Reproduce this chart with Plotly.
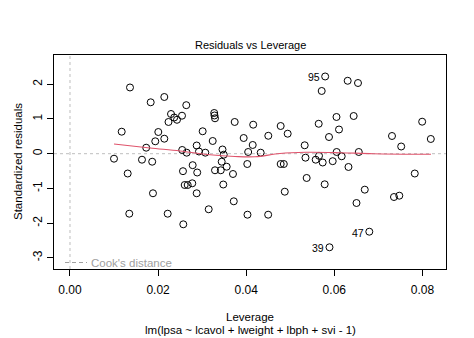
import plotly.graph_objects as go

# Leverage and standardized residuals
leverage = [
    0.01362, 0.01174, 0.00999, 0.01310, 0.01730, 0.01634, 0.01866, 0.01832, 0.02141, 0.02005,
    0.01936, 0.02141, 0.02236, 0.02293, 0.02366, 0.02429, 0.02543, 0.02640, 0.03012, 0.02876,
    0.02547, 0.02649, 0.02928, 0.03072, 0.02785, 0.02565, 0.02888, 0.03274, 0.03280, 0.03292,
    0.03240, 0.03462, 0.03491, 0.03444, 0.03557, 0.03292, 0.03423, 0.03700, 0.03739, 0.03943,
    0.04045, 0.04025, 0.02604, 0.02672, 0.02776, 0.03480, 0.01884, 0.02876, 0.03718, 0.01346,
    0.02218, 0.03149, 0.02572, 0.04029, 0.05793, 0.05714, 0.06304, 0.06538, 0.05646, 0.06050,
    0.06107, 0.06440, 0.05880, 0.04159, 0.04148, 0.04329, 0.04502, 0.04783, 0.04942, 0.05328,
    0.05346, 0.05578, 0.05653, 0.05737, 0.05964, 0.06054, 0.06168, 0.06556, 0.06322, 0.04783,
    0.04854, 0.07310, 0.07519, 0.07995, 0.08191, 0.07827, 0.05373, 0.05782, 0.04876, 0.06692,
    0.06504, 0.07355, 0.07476, 0.04499, 0.06795, 0.05891,
]
std_resid = [
    1.908, 0.634, -0.144, -0.571, 0.173, -0.173, -0.231, 1.481, 1.634, 0.625,
    0.357, 0.432, 0.914, 1.144, 1.043, 0.977, 1.095, 1.398, 0.646, 0.236,
    0.107, 0.029, 0.063, 0.029, -0.331, -0.504, -0.542, 1.173, 1.101, 1.020,
    0.366, 0.121, -0.029, -0.231, -0.375, -0.478, -0.478, -0.585, 0.914, 0.452,
    0.049, -0.297, -0.902, -0.902, -0.853, -0.888, -1.141, -1.141, -1.372, -1.729,
    -1.729, -1.602, -2.035, -1.758, 2.225, 1.807, 2.101, 2.037, 0.862, 1.058,
    0.697, 1.086, 0.481, 0.836, 0.251, 0.029, 0.516, 0.798, 0.576, 0.242,
    -0.115, -0.173, -0.061, -0.254, -0.216, 0.049, -0.075, 0.049, -0.383, -0.297,
    -0.297, 0.510, 0.207, 0.922, 0.424, -0.571, -0.700, -0.882, -1.095, -1.037,
    -1.421, -1.248, -1.210, -1.758, -2.248, -2.697,
]

# Smoothed (lowess) curve
smooth_lev = [0.00999, 0.01816, 0.02497, 0.03178, 0.03746, 0.04200, 0.04767, 0.05358, 0.06129, 0.06879, 0.08195]
smooth_res = [0.280, 0.164, 0.078, -0.032, -0.081, -0.089, 0.006, 0.040, 0.029, 0.000, -0.017]

# Labelled observations (index into arrays, label text)
label_index = [54, 94, 95]
label_text = ["95", "47", "39"]

x_tick_vals = [0.00, 0.02, 0.04, 0.06, 0.08]
x_tick_text = ["0.00", "0.02", "0.04", "0.06", "0.08"]
y_tick_vals = [-3, -2, -1, 0, 1, 2]
y_tick_text = ["-3", "-2", "-1", "0", "1", "2"]

FONT = "Liberation Sans, Arial, Helvetica, sans-serif"

fig = go.Figure()

fig.add_trace(go.Scatter(
    x=leverage, y=std_resid, mode="markers",
    marker=dict(symbol="circle-open", size=7, color="black", line=dict(width=1, color="black")),
    showlegend=False, hoverinfo="skip",
))
fig.add_trace(go.Scatter(
    x=smooth_lev, y=smooth_res, mode="lines",
    line=dict(color="#DF536B", width=1.1, shape="spline"),
    showlegend=False, hoverinfo="skip",
))

shapes = [
    dict(type="line", xref="paper", yref="y", x0=0, x1=1, y0=0, y1=0,
         line=dict(color="#BEBEBE", width=1, dash="dot"), layer="below"),
    dict(type="line", xref="x", yref="paper", x0=0, x1=0, y0=0, y1=1,
         line=dict(color="#BEBEBE", width=1, dash="dot"), layer="below"),
    # Cook's distance legend key
    dict(type="line", xref="paper", yref="paper",
         x0=11 / 392, x1=33 / 392, y0=6.5 / 214, y1=6.5 / 214,
         line=dict(color="#A0A0A0", width=1, dash="4px,3px")),
]

annotations = [
    dict(text="Residuals vs Leverage", xref="paper", yref="paper", x=0.5, y=1,
         xanchor="center", yanchor="middle", yshift=10, showarrow=False,
         font=dict(size=11, color="black", family=FONT)),
    dict(text="Leverage", xref="paper", yref="paper", x=0.5, y=0,
         xanchor="center", yanchor="middle", yshift=-48, showarrow=False,
         font=dict(size=11.5, color="black", family=FONT)),
    dict(text="lm(lpsa ~ lcavol + lweight + lbph + svi - 1)", xref="paper", yref="paper",
         x=0.5, y=0, xanchor="center", yanchor="middle", yshift=-61, showarrow=False,
         font=dict(size=11.5, color="black", family=FONT)),
    dict(text="Standardized residuals", xref="paper", yref="paper", x=0, y=0.5,
         xanchor="center", yanchor="middle", xshift=-36, textangle=-90, showarrow=False,
         font=dict(size=11.5, color="black", family=FONT)),
    dict(text="Cook's distance", xref="paper", yref="paper", x=35 / 392, y=6.5 / 214,
         xanchor="left", yanchor="middle", showarrow=False,
         font=dict(size=11.5, color="#A0A0A0", family=FONT)),
]
for i, t in zip(label_index, label_text):
    annotations.append(dict(
        text=t, x=leverage[i], y=std_resid[i], xref="x", yref="y",
        xanchor="right", yanchor="middle", xshift=-3, yshift=-1, showarrow=False,
        font=dict(size=10.5, color="black", family=FONT)))

fig.update_layout(
    width=474, height=338, autosize=False,
    margin=dict(l=54, r=28, t=55, b=69, pad=0),
    paper_bgcolor="white", plot_bgcolor="white",
    font=dict(family=FONT, size=11, color="black"),
    shapes=shapes, annotations=annotations,
    xaxis=dict(range=[-0.00363, 0.08536], showgrid=False, zeroline=False,
               showline=True, mirror=True, linecolor="black", linewidth=1,
               ticks="outside", ticklen=6, tickcolor="black", tickwidth=1,
               tickvals=x_tick_vals, ticktext=x_tick_text, ticklabelstandoff=4,
               tickfont=dict(size=12, color="black", family=FONT)),
    yaxis=dict(range=[-3.323, 2.844], showgrid=False, zeroline=False,
               showline=True, mirror=True, linecolor="black", linewidth=1,
               ticks="outside", ticklen=6, tickcolor="black", tickwidth=1,
               tickvals=y_tick_vals, ticktext=y_tick_text, tickangle=-90,
               tickfont=dict(size=12, color="black", family=FONT)),
)

fig.write_html("out.html")
